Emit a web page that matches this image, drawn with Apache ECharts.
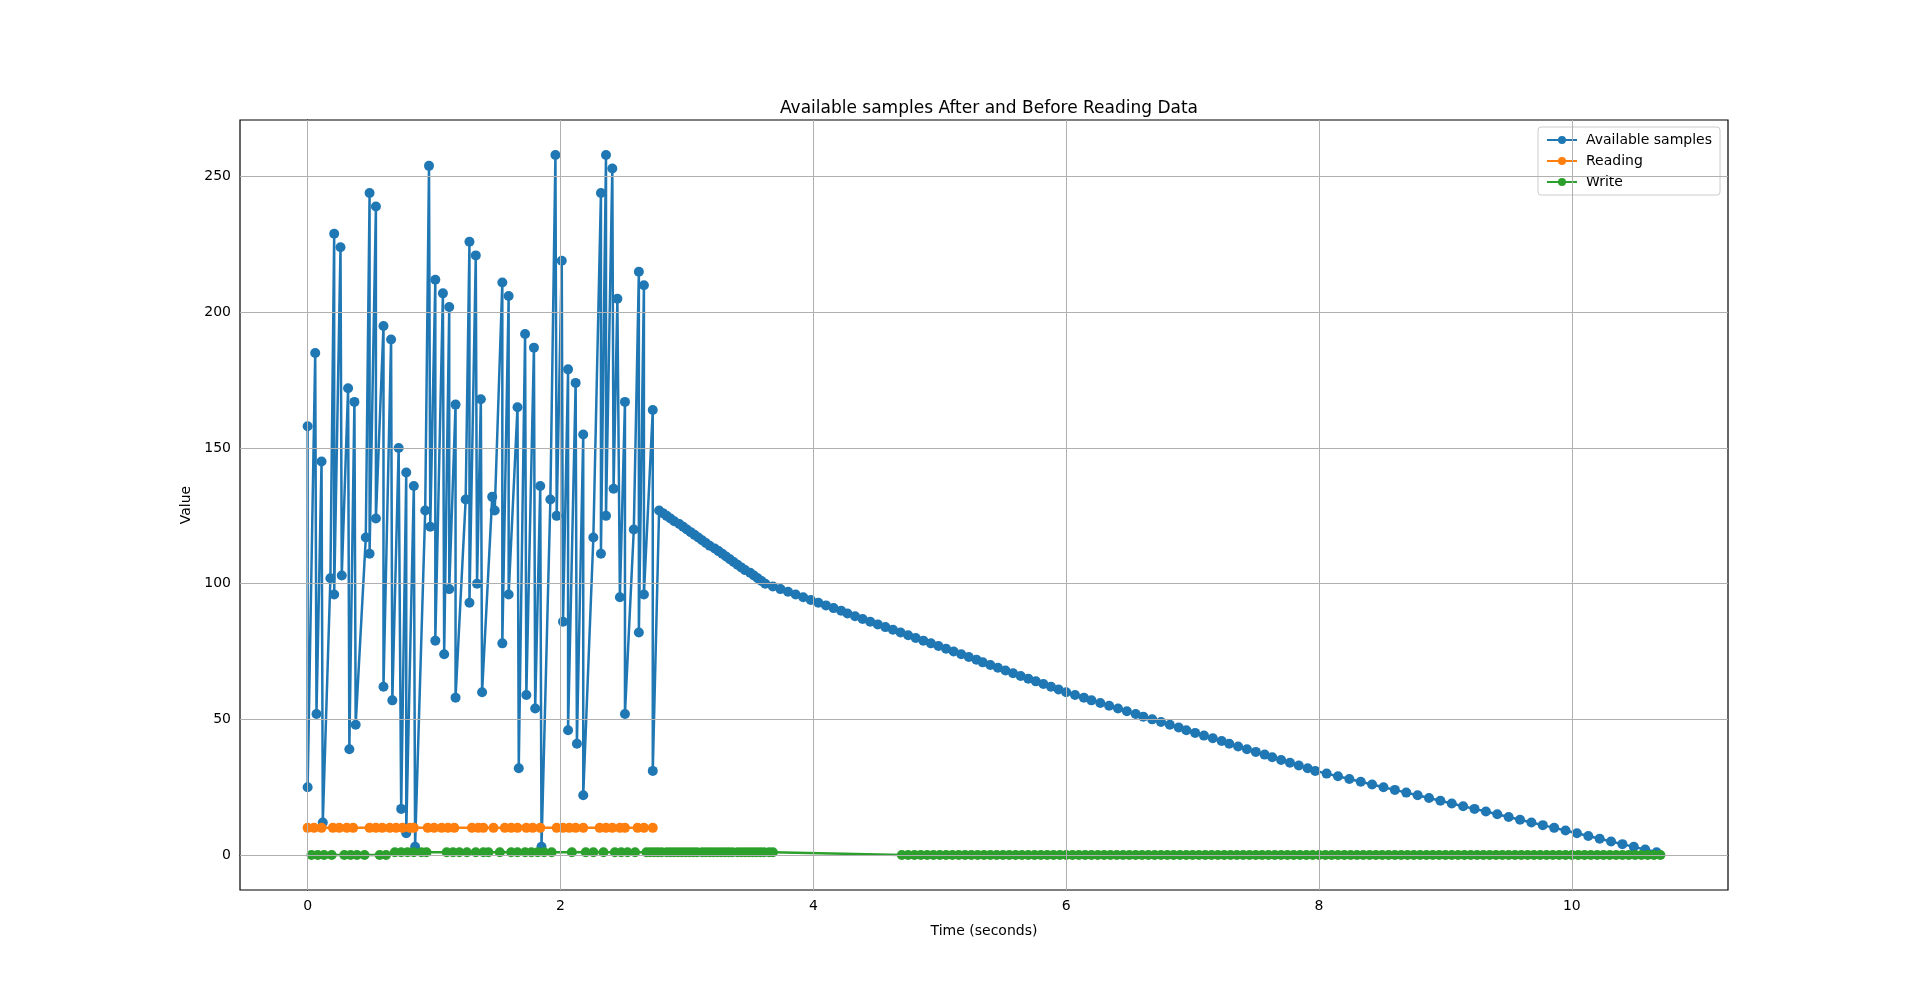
<!DOCTYPE html>
<html><head><meta charset="utf-8">
<script src="https://cdn.jsdelivr.net/npm/echarts@6/dist/echarts.min.js"></script>
<style>html,body{margin:0;padding:0;background:#fff}#c{width:1920px;height:1000px}</style>
</head><body><div id="c"></div>
<script>
const availTimes1 = [0,0,0.06,0.07,0.11,0.12,0.18,0.21,0.21,0.26,0.27,0.32,0.33,0.37,0.38,0.46,0.49,0.49,0.54,0.54,0.60,0.60,0.66,0.67,0.72,0.74,0.78,0.78,0.84,0.85,0.93,0.96,0.97,1.01,1.01,1.07,1.08,1.12,1.12,1.17,1.17,1.25,1.28,1.28,1.33,1.34,1.37,1.38,1.46,1.48,1.54,1.54,1.59,1.59,1.66,1.67,1.72,1.73,1.79,1.80,1.84,1.85,1.92,1.96,1.97,2.01,2.02,2.06,2.06,2.12,2.13,2.18,2.18,2.26,2.32,2.32,2.36,2.36,2.41,2.42,2.45,2.47,2.51,2.51,2.58,2.62,2.62,2.66,2.66,2.73,2.73];
const availValues1 = [158,25,185,52,145,12,102,229,96,224,103,172,39,167,48,117,244,111,239,124,195,62,190,57,150,17,141,8,136,3,127,254,121,212,79,207,74,202,98,166,58,131,226,93,221,100,168,60,132,127,211,78,206,96,165,32,192,59,187,54,136,3,131,258,125,219,86,179,46,174,41,155,22,117,244,111,258,125,253,135,205,95,167,52,120,215,82,210,96,164,31];
const availTimes2 = [2.78,2.81,2.84,2.87,2.90,2.94,2.97,3.00,3.03,3.06,3.09,3.12,3.15,3.18,3.22,3.25,3.28,3.31,3.34,3.37,3.40,3.43,3.46,3.50,3.53,3.56,3.59,3.62,
3.68,3.74,3.80,3.86,3.92,3.98,4.04,4.10,4.16,4.22,4.27,4.33,4.39,4.45,4.51,4.57,4.63,4.69,4.75,4.81,4.87,4.93,4.99,5.05,5.11,5.17,5.23,5.29,5.34,5.40,5.46,5.52,5.58,5.64,5.70,5.76,5.82,5.88,5.94,6.00,
6.07,6.14,6.20,6.27,6.34,6.41,6.48,6.55,6.61,6.68,6.75,6.82,6.89,6.95,7.02,7.09,7.16,7.23,7.29,7.36,7.43,7.50,7.57,7.63,7.70,7.77,7.84,7.91,7.97,
8.06,8.15,8.24,8.33,8.42,8.51,8.60,8.69,8.78,8.87,8.96,9.05,9.14,9.23,9.32,9.41,9.50,9.59,9.68,9.77,9.86,9.95,10.04,10.13,10.22,10.31,10.40,10.49,10.58,10.67];
const availValues2 = [127,126,125,124,123,122,121,120,119,118,117,116,115,114,113,112,111,110,109,108,107,106,105,104,103,102,101,100,
99,98,97,96,95,94,93,92,91,90,89,88,87,86,85,84,83,82,81,80,79,78,77,76,75,74,73,72,71,70,69,68,67,66,65,64,63,62,61,60,
59,58,57,56,55,54,53,52,51,50,49,48,47,46,45,44,43,42,41,40,39,38,37,36,35,34,33,32,31,
30,29,28,27,26,25,24,23,22,21,20,19,18,17,16,15,14,13,12,11,10,9,8,7,6,5,4,3,2,1];
const readTimes = [0.00,0.05,0.11,0.20,0.25,0.31,0.36,0.49,0.54,0.59,0.65,0.70,0.75,0.81,0.84,0.95,1.00,1.06,1.11,1.16,1.30,1.35,1.39,1.47,1.56,1.61,1.66,1.73,1.78,1.84,1.97,2.02,2.07,2.12,2.18,2.31,2.36,2.41,2.47,2.51,2.61,2.66,2.73];
const readValue = 10;
const writeTimes0 = [0.03,0.08,0.13,0.19,0.29,0.34,0.39,0.45,0.57,0.62];
const writeTimes1 = [0.69,0.74,0.79,0.84,0.90,0.94,1.10,1.15,1.20,1.26,1.33,1.39,1.43,1.52,1.61,1.66,1.72,1.77,1.82,1.87,1.93,2.09,2.20,2.26,2.34,2.43,2.48,2.53,2.59,
2.68,2.71,2.74,2.77,2.80,2.84,2.87,2.90,2.93,2.96,2.99,3.02,3.05,3.08,3.12,3.15,3.18,3.21,3.24,3.27,3.30,3.33,3.36,3.40,3.43,3.46,3.49,3.52,3.55,3.58,3.61,3.65,3.68];
const writeTimesLate = [4.70,4.75,4.80,4.85,4.90,4.95,5.00,5.05,5.10,5.15,5.20,5.25,5.30,5.35,5.40,5.45,5.50,5.55,5.60,5.65,5.70,5.75,5.80,5.85,5.90,5.95,6.00,6.05,6.10,6.15,6.20,6.25,6.30,6.35,6.40,6.45,6.50,6.55,6.60,6.65,6.70,6.75,6.80,6.85,6.90,6.95,7.00,7.05,7.10,7.15,7.20,7.25,7.30,7.35,7.40,7.45,7.50,7.55,7.60,7.65,7.70,7.75,7.80,7.85,7.90,7.95,8.00,8.05,8.10,8.15,8.20,8.25,8.30,8.35,8.40,8.45,8.50,8.55,8.60,8.65,8.70,8.75,8.80,8.85,8.90,8.95,9.00,9.05,9.10,9.15,9.20,9.25,9.30,9.35,9.40,9.45,9.50,9.55,9.60,9.65,9.70,9.75,9.80,9.85,9.90,9.95,10.00,10.05,10.10,10.15,10.20,10.25,10.30,10.35,10.40,10.45,10.50,10.55,10.60,10.65,10.70];
const xTicks = [0,2,4,6,8,10];
const yTicks = [0,50,100,150,200,250];

function zip(t, v){ const n=Math.min(t.length,v.length); const o=[]; for(let i=0;i<n;i++) o.push([t[i],v[i]]); return o; }
const availData = zip(availTimes1, availValues1).concat(zip(availTimes2, availValues2));
const readData = readTimes.map(t=>[t, readValue]);
const writeData = writeTimes0.map(t=>[t,0]).concat(writeTimes1.map(t=>[t,1])).concat(writeTimesLate.map(t=>[t,0]));

const font = 'DejaVu Sans';
const gridLines = {
  type:'line', data:[], silent:true, z:1,
  markLine:{ silent:true, symbol:'none', label:{show:false}, animation:false,
    lineStyle:{color:'#b0b0b0', width:1, type:'solid'},
    data: xTicks.map(x=>({xAxis:x})).concat(yTicks.map(y=>({yAxis:y}))) }
};
const mk = (name, data, color) => ({
  name, type:'line', data, z:3, symbol:'circle', symbolSize:10, showSymbol:true,
  lineStyle:{color, width:2.5}, itemStyle:{color}, animation:false
});
const chart = echarts.init(document.getElementById('c'));
chart.setOption({
  animation:false,
  textStyle:{fontFamily:font},
  title:{text:'Available samples After and Before Reading Data', left:984, textAlign:'center', top:95,
    textStyle:{fontFamily:font, fontSize:17, fontWeight:'normal', color:'#000'}},
  legend:{ orient:'vertical', right:200, top:127, itemWidth:30, itemHeight:10, itemGap:7,
    padding:[6,8,6,8], borderColor:'#cccccc', borderWidth:1, borderRadius:3, backgroundColor:'rgba(255,255,255,0.8)',
    align:'left', textStyle:{fontFamily:font, fontSize:14, color:'#000', padding:[0,0,0,4]},
    data:['Available samples','Reading','Write'] },
  grid:{ left:240, right:192, top:120, bottom:110, show:true, borderColor:'#000', borderWidth:1.2, backgroundColor:'transparent' },
  xAxis:{ type:'value', min:-0.535, max:11.235, name:'Time (seconds)', nameLocation:'middle', nameGap:34,
    nameTextStyle:{fontFamily:font, fontSize:14, color:'#000'},
    axisLine:{show:true, lineStyle:{color:'#000'}}, splitLine:{show:false},
    axisTick:{show:true, length:6, lineStyle:{color:'#000'}, customValues:xTicks},
    axisLabel:{customValues:xTicks, fontFamily:font, fontSize:14, color:'#000', margin:9} },
  yAxis:{ type:'value', min:-12.9, max:270.9, name:'Value', nameLocation:'middle', nameGap:44, nameRotate:90,
    nameTextStyle:{fontFamily:font, fontSize:14, color:'#000'},
    axisLine:{show:true, lineStyle:{color:'#000'}}, splitLine:{show:false},
    axisTick:{show:true, length:6, lineStyle:{color:'#000'}, customValues:yTicks},
    axisLabel:{customValues:yTicks, fontFamily:font, fontSize:14, color:'#000', margin:9} },
  series:[ gridLines,
    mk('Available samples', availData, '#1f77b4'),
    mk('Reading', readData, '#ff7f0e'),
    mk('Write', writeData, '#2ca02c') ]
});
</script></body></html>
